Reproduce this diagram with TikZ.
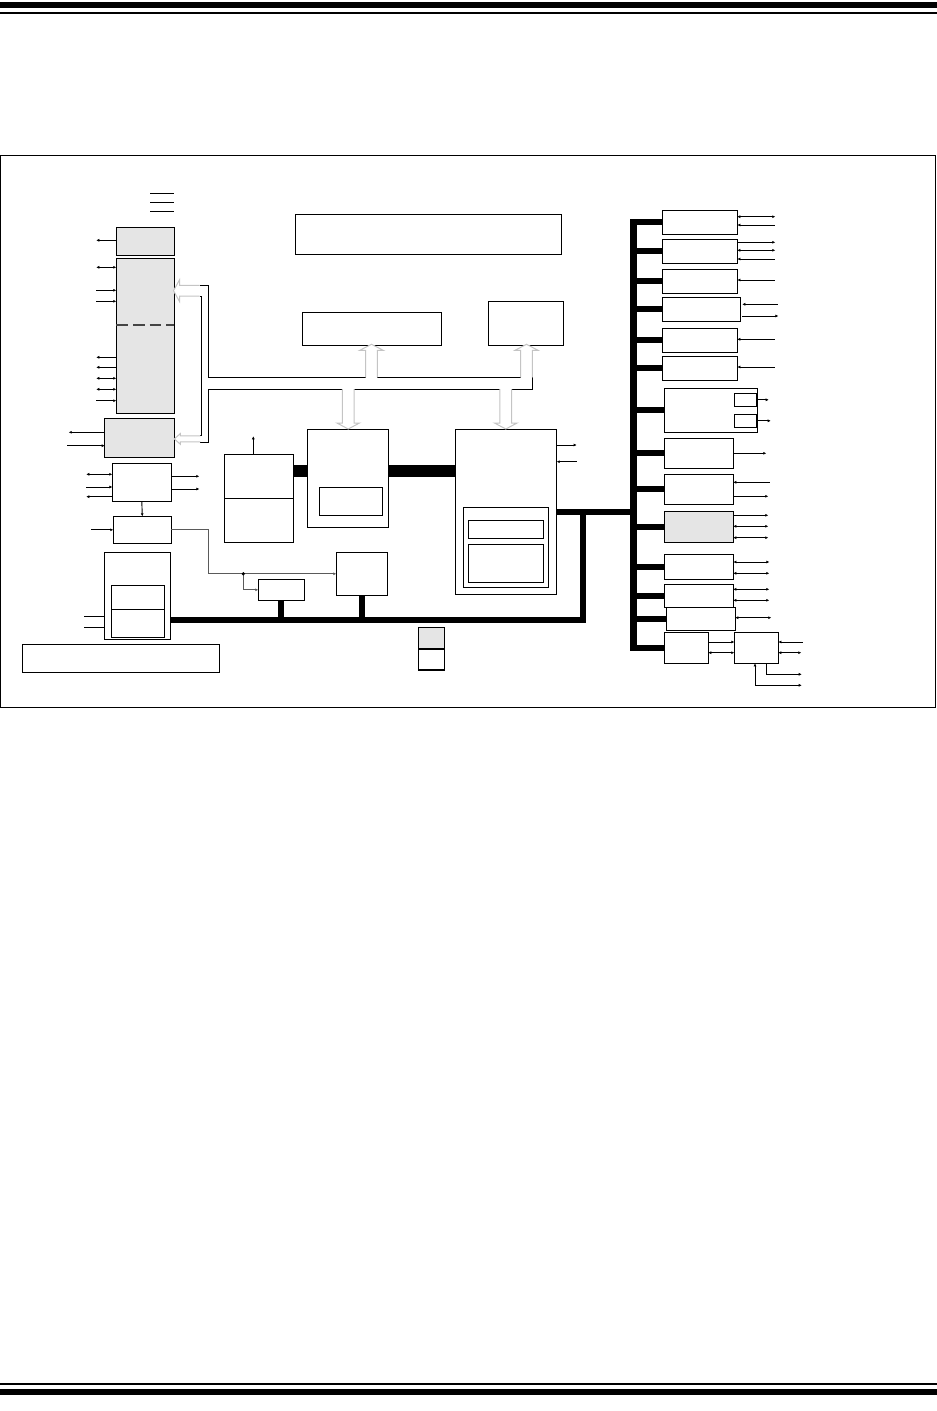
\documentclass[tikz,border=0pt]{standalone}
\usepackage{xcolor}
\usepackage{tikz}
\usetikzlibrary{arrows.meta}
\definecolor{padgray}{HTML}{E5E5E5}
\definecolor{hollowgray}{HTML}{C4C4C4}
\definecolor{feedgray}{HTML}{5A5A5A}
\definecolor{dashgray}{HTML}{444444}
\tikzset{blk/.style={draw,line width=1.1pt,fill=white,inner sep=0pt,outer sep=0pt,anchor=north west},
         shaded/.style={blk,fill=padgray},
         wire/.style={line width=0.9pt},
         pout/.style={wire,->},
         pin/.style={wire,<-},
         pbi/.style={wire,<->},
         bus/.style={line width=6pt},
         widebus/.style={line width=11.7pt},
         buswall/.style={line width=1pt},
         feed/.style={line width=0.9pt,draw=feedgray},
         hollow/.style={draw=hollowgray,line width=1pt,fill=white},
         >={Latex[length=3pt,width=3pt]}}
\tikzset{pics/harrow/.style n args={3}{code={%
  \draw[hollow] (-#1,-#2) -- (-6,-#2) -- (-6,-#3) -- (0,0) -- (-6,#3) -- (-6,#2) -- (-#1,#2);}}}
\newcommand{\mkbox}[6][blk]{\node[#1,minimum width={(#5-#3)*1pt},minimum height={(#6-#4)*1pt}] (#2) at (#3,#4) {};}

\begin{document}
\begin{tikzpicture}[x=1pt,y=-1pt]
\useasboundingbox (0,0) rectangle (937,1411);
\fill (0,2) rectangle (937,8);
\fill (0,12) rectangle (937,14);
\fill (0,1383) rectangle (937,1385);
\fill (0,1389) rectangle (937,1395);
\draw[line width=1pt] (0.7,155) rectangle (935.5,707);

\foreach \y in {193.3,202.3,211.3} \draw[wire] (150,\y) -- (174,\y);

\mkbox[shaded]{A}{116.3}{227.3}{174.3}{255.3}
\mkbox[shaded]{B}{116.3}{258.3}{174.3}{413.3}
\draw[dashgray,line width=1.6pt,dash pattern=on 11.7pt off 5pt] (B.west |- 0,324.7) -- (B.east |- 0,324.7);
\mkbox[shaded]{C}{104.7}{418.3}{174.3}{457.3}
\mkbox{K}{112.3}{463.3}{171.3}{501.3}
\mkbox{L}{113.3}{516.3}{171.3}{543.3}
\mkbox{M}{104.3}{552.3}{170.3}{639.3}
\mkbox{m1}{111.3}{585.3}{164.3}{637.3}
\draw[line width=1.1pt] (m1.west |- 0,609.3) -- (m1.east |- 0,609.3);
\mkbox{N}{22.3}{644.3}{219.3}{672.3}

\mkbox{D}{295.3}{214.3}{561.7}{254.3}
\mkbox{E}{302.3}{312.3}{441.3}{345.3}
\mkbox{F}{488.3}{301.3}{563.3}{345.3}
\mkbox{H}{224.3}{454.3}{293.3}{542.3}
\draw[line width=1.1pt] (H.west |- 0,498.3) -- (H.east |- 0,498.3);
\mkbox{G1}{307.3}{429.3}{388.7}{527.3}
\mkbox{g1in}{319.3}{487.3}{382.7}{515.3}
\mkbox{G2}{455.3}{429.3}{556.7}{594.3}
\mkbox{g2in}{463.3}{507.3}{548.7}{587.3}
\mkbox{g2a}{468.3}{520.3}{543.3}{538.3}
\mkbox{g2b}{468.3}{544.3}{543.3}{582.3}
\mkbox{I}{258.3}{579.3}{304.3}{600.3}
\mkbox{J}{336.3}{552.3}{387.7}{595.3}
\mkbox[shaded]{lg1}{418.3}{627.3}{444.3}{649}
\mkbox{lg2}{418.3}{649}{444.3}{670}

\mkbox{r1}{662.3}{210.3}{737.3}{234.3}
\mkbox{r2}{662.3}{239.3}{737.3}{263.3}
\mkbox{r3}{662.3}{269.3}{737.3}{293.3}
\mkbox{r4}{662.3}{297.3}{740.3}{321.3}
\mkbox{r5}{662.3}{328.3}{737.3}{352.3}
\mkbox{r6}{662.3}{356.3}{737.3}{380.3}
\mkbox{r7}{664.3}{388.3}{757.3}{432.3}
\mkbox{q1}{734.3}{393.3}{756.7}{406.3}
\mkbox{q2}{734.3}{414.3}{756.7}{427.3}
\mkbox{r8}{664.3}{438.3}{733.3}{468.3}
\mkbox{r9}{664.3}{474.3}{733.3}{504.3}
\mkbox[shaded]{r10}{664.3}{511.3}{733.3}{542.3}
\mkbox{r11}{664.3}{554.3}{733.3}{579.3}
\mkbox{r12}{664.3}{584.3}{733.3}{607.7}
\mkbox{r13}{666.3}{607.7}{735.3}{630.3}
\mkbox{r14}{664.3}{632.3}{708.3}{663.3}
\mkbox{r15}{734.3}{632.3}{778.3}{663.3}

\coordinate (rtop) at (633.7,219.3);
\coordinate (rbot) at (633.7,651);
\coordinate (bj) at (583.3,511.5);
\coordinate (split) at (243.3,573.8);
\draw[line width=7.3pt] (rtop) -- (rbot);
\foreach \r in {r1,r2,r3,r4,r5,r6,r7,r8,r9,r10,r11,r12,r13,r14}
  \draw[bus] (\r.west) -- (\r.west -| rtop);
\draw[bus] (G2.east) -- (G2.east -| rtop);
\draw[bus] (M.east |- 0,620) -| (bj);
\draw[bus] (I.south) -- (I.south |- 0,620);
\draw[bus] (J.south) -- (J.south |- 0,620);
\draw[widebus] (H.east |- 0,470.8) -- (G1.west |- 0,470.8);
\draw[widebus] (G1.east |- 0,470.8) -- (G2.west |- 0,470.8);

\draw[buswall] (199.5,285.3) -| (208.3,377.3) -- (365.7,377.3);
\draw[buswall] (377.3,377.3) -- (520.7,377.3);
\draw[buswall] (532.3,377.3) |- (511.7,389);
\draw[buswall] (500,389) -- (354,389);
\draw[buswall] (342.3,389) -- (208.3,389) |- (200.3,442.3);
\draw[buswall] (199.5,296) -| (201.7,435.7) -- (200.3,435.7);
\pic[rotate=180] at (173.5,290.7) {harrow={26}{5.3}{10.8}};
\pic[rotate=180] at (174.3,438.9) {harrow={26}{3}{5.3}};
\pic[rotate=90] at (371.5,344.3) {harrow={33}{5.8}{11.7}};
\pic[rotate=90] at (526.5,344.3) {harrow={33}{5.8}{11.5}};
\pic[rotate=-90] at (348.2,429) {harrow={40}{5.85}{11.3}};
\pic[rotate=-90] at (505.8,429) {harrow={40}{5.85}{11.3}};

\draw[pout] (A.west |- 0,240.3) -- ++(-20,0);
\foreach \y/\s in {267.3/pbi,290.3/pin,301.3/pin,357.3/pout,367.3/pout,378.3/pbi,389.3/pbi,400.7/pin}
  \draw[\s] (B.west |- 0,\y) -- ++(-20,0);
\draw[pout] (C.west |- 0,432.3) -- ++(-36,0);
\draw[pin] (C.west |- 0,445.7) -- ++(-38,0);
\foreach \y/\s in {474.3/pbi,487/pin,496.7/pout}
  \draw[\s] (K.west |- 0,\y) -- ++(-26,0);
\foreach \y in {476.3,489} \draw[pout] (K.east |- 0,\y) -- ++(28,0);
\draw[pout] (K) ++(0,19) -- (L.north);
\draw[pin] (L.west) -- ++(-22,0);
\foreach \y in {616,627.3} \draw[wire] (M.west |- 0,\y) -- ++(-20,0);
\draw[pout] (H.north -| 253.3,0) -- ++(0,-18);
\draw[pout] (G2.east |- 0,445) -- ++(20,0);
\draw[pin] (G2.east |- 0,461.7) -- ++(20,0);

\draw[feed,->] (L.east) -- ++(37,0) |- (J.west);
\draw[feed,->] (split) |- (I.west);
\fill (split) circle (1.8);

\foreach \y/\s in {216.7/pbi,225/pin} \draw[\s] (r1.east |- 0,\y) -- ++(38,0);
\foreach \y/\s in {242.3/pout,250.3/pbi,259/pin} \draw[\s] (r2.east |- 0,\y) -- ++(38,0);
\draw[pin] (r3.east |- 0,280) -- ++(38,0);
\draw[pin] (r4.east |- 0,304.3) ++(2,0) -- ++(36,0);
\draw[pout] (r4.east |- 0,316) ++(2,0) -- ++(36,0);
\draw[pin] (r5.east |- 0,339.3) -- ++(38,0);
\draw[pin] (r6.east |- 0,367) -- ++(38,0);
\draw[pout] (q1.east) -- ++(12,0);
\draw[pout] (q2.east) -- ++(14,0);
\draw[pout] (r8.east |- 0,453.3) -- ++(33,0);
\draw[pin] (r9.east |- 0,482.3) -- ++(37,0);
\draw[pout] (r9.east |- 0,496.3) -- ++(35,0);
\foreach \y/\s in {515.3/pout,526.3/pbi,537.7/pbi} \draw[\s] (r10.east |- 0,\y) -- ++(35,0);
\foreach \y in {562,573.3} \draw[pbi] (r11.east |- 0,\y) -- ++(36,0);
\foreach \y in {589.3,600.3} \draw[pbi] (r12.east |- 0,\y) -- ++(36,0);
\draw[pbi] (r13.east |- 0,617.7) -- ++(36,0);
\draw[pout] (r14.east |- 0,642) -- (r15.west |- 0,642);
\draw[pbi] (r14.east |- 0,652.7) -- (r15.west |- 0,652.7);
\draw[pin] (r15.east |- 0,642) -- ++(25,0);
\draw[pbi] (r15.east |- 0,652.7) -- ++(23,0);
\draw[pbi] (r15.south -| 755,0) -- ++(0,22) -- ++(46.7,0);
\draw[pout] (r15.south -| 766.3,0) -- ++(0,11) -- ++(35.4,0);
\end{tikzpicture}
\end{document}
